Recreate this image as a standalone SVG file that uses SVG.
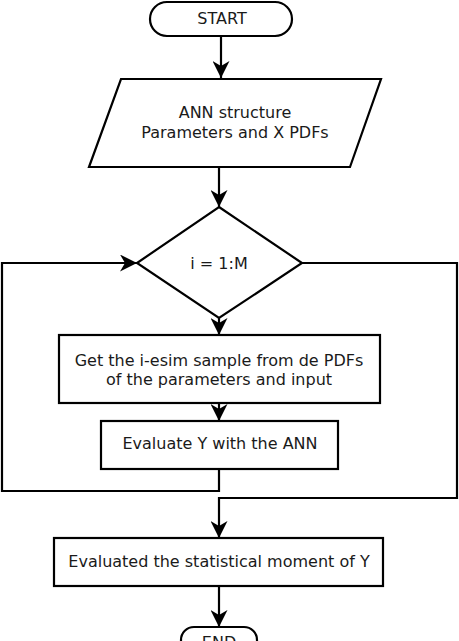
<svg xmlns="http://www.w3.org/2000/svg" width="459" height="641" viewBox="0 0 459 641">
<style>
.n{fill:#fff;stroke:#000;stroke-width:2.2}
.t{font-family:"DejaVu Sans",Verdana,sans-serif;font-size:16px;fill:#1a1a1a;text-anchor:middle}
.c{fill:none;stroke:#000;stroke-width:2.2}
</style>
<defs>
<marker id="ah" markerUnits="userSpaceOnUse" viewBox="0 0 17 17" markerWidth="17" markerHeight="17" refX="17" refY="8.5" orient="auto">
<path d="M0,0 L17,8.5 L0,17 L5,8.5 z" fill="#000"/>
</marker>
</defs>
<rect width="459" height="641" fill="#fff"/>
<g id="connectors">
<path class="c" d="M221,36 V78" marker-end="url(#ah)"/>
<path class="c" d="M219,167 V207" marker-end="url(#ah)"/>
<path class="c" d="M219,318 V335" marker-end="url(#ah)"/>
<path class="c" d="M219,403 V421" marker-end="url(#ah)"/>
<path class="c" d="M219,469 V491 H2 V263 H137" marker-end="url(#ah)"/>
<path class="c" d="M302,263 H457 V498 H219 V538" marker-end="url(#ah)"/>
<path class="c" d="M219,586 V627" marker-end="url(#ah)"/>
</g>
<g id="start">
<rect class="n" x="150" y="2" width="142" height="34" rx="17"/>
<text class="t" x="222" y="24">START</text>
</g>
<g id="input">
<polygon class="n" points="121,79 381,79 350,167 89,167"/>
<text class="t" x="235" y="118">ANN structure</text>
<text class="t" x="235" y="138">Parameters and X PDFs</text>
</g>
<g id="loop">
<polygon class="n" points="219,207 302,263 219,318 137,263"/>
<text class="t" x="219" y="269">i = 1:M</text>
</g>
<g id="sample">
<rect class="n" x="59" y="335" width="321" height="68"/>
<text class="t" x="219" y="366">Get the i-esim sample from de PDFs</text>
<text class="t" x="219" y="385">of the parameters and input</text>
</g>
<g id="evaluate">
<rect class="n" x="101" y="421" width="237" height="48"/>
<text class="t" x="220" y="449">Evaluate Y with the ANN</text>
</g>
<g id="moment">
<rect class="n" x="54" y="538" width="329" height="48"/>
<text class="t" x="219" y="567">Evaluated the statistical moment of Y</text>
</g>
<g id="end">
<rect class="n" x="181" y="627" width="76" height="34" rx="13"/>
<text class="t" x="219" y="648">END</text>
</g>
</svg>
